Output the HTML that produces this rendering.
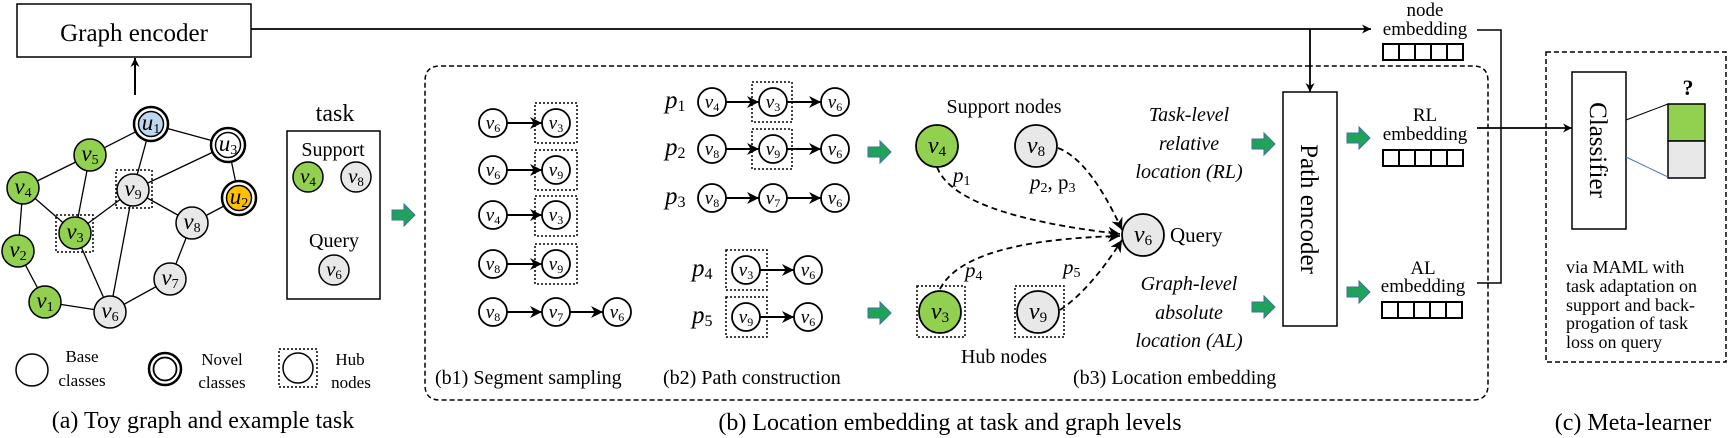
<!DOCTYPE html>
<html><head><meta charset="utf-8"><style>
html,body{margin:0;padding:0;background:#fff}
svg{display:block}
text{font-family:"Liberation Serif",serif;fill:#000}
.v{font-style:italic}
.v tspan{font-style:normal}
</style></head><body>
<svg width="1731" height="438" viewBox="0 0 1731 438" xmlns="http://www.w3.org/2000/svg">
<defs>
<marker id="ah" viewBox="0 0 10 10" refX="10" refY="5" markerWidth="9" markerHeight="9" markerUnits="userSpaceOnUse" orient="auto"><path d="M0,0 L10,5 L0,10 L3,5 z" fill="#000"/></marker>
<marker id="ah2" viewBox="0 0 10 10" refX="10" refY="5" markerWidth="12" markerHeight="12" markerUnits="userSpaceOnUse" orient="auto"><path d="M0,0 L10,5 L0,10 L3,5 z" fill="#000"/></marker>
<g id="ga"><polygon points="0,-5 12,-5 12,-11 23,0 12,11 12,5 0,5" fill="#1fa35a" stroke="#41719c" stroke-width="1"/></g>
<g id="emb" fill="#fff" stroke="#000" stroke-width="2"><rect x="0" y="0" width="16" height="16"/><rect x="16" y="0" width="16" height="16"/><rect x="32" y="0" width="16" height="16"/><rect x="48" y="0" width="16" height="16"/><rect x="64" y="0" width="16" height="16"/></g>
</defs>

<!-- (a) -->
<rect x="17" y="4" width="234" height="53" fill="#fff" stroke="#000" stroke-width="1.5"/>
<text x="134" y="41" font-size="25" text-anchor="middle">Graph encoder</text>
<line x1="135" y1="95" x2="135" y2="58" stroke="#000" stroke-width="2" marker-end="url(#ah)"/>
<g stroke="#000" stroke-width="1.3">
<line x1="151" y1="124" x2="90" y2="155"/><line x1="151" y1="124" x2="228" y2="145"/><line x1="151" y1="124" x2="133" y2="190"/>
<line x1="228" y1="145" x2="133" y2="190"/><line x1="228" y1="145" x2="239" y2="198"/><line x1="239" y1="198" x2="192" y2="223"/>
<line x1="90" y1="155" x2="23" y2="188"/><line x1="90" y1="155" x2="75" y2="233"/><line x1="23" y1="188" x2="75" y2="233"/>
<line x1="23" y1="188" x2="18" y2="251"/><line x1="133" y1="190" x2="75" y2="233"/><line x1="133" y1="190" x2="192" y2="223"/>
<line x1="133" y1="190" x2="110" y2="312"/><line x1="75" y1="233" x2="110" y2="312"/><line x1="192" y1="223" x2="170" y2="279"/>
<line x1="170" y1="279" x2="110" y2="312"/><line x1="18" y1="251" x2="45" y2="302"/><line x1="45" y1="302" x2="110" y2="312"/>
</g>
<g fill="none" stroke="#000" stroke-width="1.5" stroke-dasharray="2,2"><rect x="116" y="170" width="36" height="38"/><rect x="56" y="215" width="37" height="37"/></g>
<g stroke="#000" stroke-width="1.5">
<circle cx="151" cy="124" r="17" fill="#fff" stroke-width="2.5"/><circle cx="151" cy="124" r="12.5" fill="#bdd7ee"/>
<circle cx="228" cy="145" r="17" fill="#fff" stroke-width="2.5"/><circle cx="228" cy="145" r="12.5" fill="#fff"/>
<circle cx="239" cy="198" r="17" fill="#fff" stroke-width="2.5"/><circle cx="239" cy="198" r="12.5" fill="#ffc000"/>
<circle cx="90" cy="155" r="16" fill="#92d050"/><circle cx="23" cy="188" r="16" fill="#92d050"/>
<circle cx="133" cy="190" r="16" fill="#e8e8e8"/><circle cx="75" cy="233" r="16" fill="#92d050"/>
<circle cx="192" cy="223" r="16" fill="#e8e8e8"/><circle cx="18" cy="251" r="16" fill="#92d050"/>
<circle cx="170" cy="279" r="16" fill="#e8e8e8"/><circle cx="45" cy="302" r="16" fill="#92d050"/>
<circle cx="110" cy="312" r="16" fill="#e8e8e8"/>
</g>
<g font-size="23" class="v" text-anchor="middle">
<text class="v" x="151" y="130">u<tspan font-size="14" dy="3">1</tspan></text>
<text class="v" x="228" y="151">u<tspan font-size="14" dy="3">3</tspan></text>
<text class="v" x="239" y="204">u<tspan font-size="14" dy="3">2</tspan></text>
<text class="v" x="90" y="161">v<tspan font-size="14" dy="3">5</tspan></text>
<text class="v" x="23" y="194">v<tspan font-size="14" dy="3">4</tspan></text>
<text class="v" x="133" y="196">v<tspan font-size="14" dy="3">9</tspan></text>
<text class="v" x="75" y="239">v<tspan font-size="14" dy="3">3</tspan></text>
<text class="v" x="192" y="229">v<tspan font-size="14" dy="3">8</tspan></text>
<text class="v" x="18" y="257">v<tspan font-size="14" dy="3">2</tspan></text>
<text class="v" x="170" y="285">v<tspan font-size="14" dy="3">7</tspan></text>
<text class="v" x="45" y="308">v<tspan font-size="14" dy="3">1</tspan></text>
<text class="v" x="110" y="318">v<tspan font-size="14" dy="3">6</tspan></text>
</g>
<text x="335" y="121" font-size="24" text-anchor="middle">task</text>
<rect x="287" y="131" width="93" height="168" fill="#fff" stroke="#000" stroke-width="1.5"/>
<text x="333" y="156" font-size="20" text-anchor="middle">Support</text>
<circle cx="308" cy="177" r="15" fill="#92d050" stroke="#000" stroke-width="1.5"/>
<circle cx="356" cy="177" r="15" fill="#e8e8e8" stroke="#000" stroke-width="1.5"/>
<text class="v" x="308" y="183" font-size="21" text-anchor="middle">v<tspan font-size="13" dy="3">4</tspan></text>
<text class="v" x="356" y="183" font-size="21" text-anchor="middle">v<tspan font-size="13" dy="3">8</tspan></text>
<text x="334" y="247" font-size="20" text-anchor="middle">Query</text>
<circle cx="334" cy="270" r="15" fill="#e8e8e8" stroke="#000" stroke-width="1.5"/>
<text class="v" x="334" y="276" font-size="21" text-anchor="middle">v<tspan font-size="13" dy="3">6</tspan></text>
<!-- legend -->
<circle cx="32" cy="370" r="16" fill="#fff" stroke="#000" stroke-width="1.5"/>
<text x="82" y="362" font-size="17" text-anchor="middle">Base</text><text x="82" y="386" font-size="17" text-anchor="middle">classes</text>
<circle cx="165" cy="369" r="16" fill="#fff" stroke="#000" stroke-width="2.5"/><circle cx="165" cy="369" r="11.5" fill="#fff" stroke="#000" stroke-width="1.8"/>
<text x="222" y="365" font-size="17" text-anchor="middle">Novel</text><text x="222" y="388" font-size="17" text-anchor="middle">classes</text>
<rect x="279" y="349" width="38" height="38" fill="none" stroke="#000" stroke-width="1.5" stroke-dasharray="2,2"/>
<circle cx="298" cy="368" r="15" fill="#fff" stroke="#000" stroke-width="1.5"/>
<text x="350" y="365" font-size="17" text-anchor="middle">Hub</text><text x="351" y="388" font-size="17" text-anchor="middle">nodes</text>
<text x="203" y="428" font-size="24" text-anchor="middle">(a) Toy graph and example task</text>

<use href="#ga" x="392" y="215"/>

<!-- (b) box -->
<path d="M1310,66 H440 Q425,66 425,81 V385 Q425,400 440,400 H1473 Q1488,400 1488,385 V81 Q1488,66 1473,66 H1310" fill="none" stroke="#000" stroke-width="1.5" stroke-dasharray="5,3"/>

<!-- b1 -->
<g fill="none" stroke="#000" stroke-width="1.5" stroke-dasharray="2,2">
<rect x="535" y="103" width="42" height="40"/><rect x="535" y="150" width="42" height="40"/><rect x="535" y="196" width="42" height="40"/><rect x="535" y="244" width="42" height="40"/>
<rect x="752" y="82" width="40" height="40"/><rect x="752" y="129" width="40" height="40"/>
<rect x="726" y="250" width="41" height="40"/><rect x="726" y="297" width="41" height="40"/>
</g>
<g stroke="#000" stroke-width="2" marker-end="url(#ah2)">
<line x1="507" y1="123" x2="542" y2="123"/><line x1="507" y1="170" x2="542" y2="170"/><line x1="507" y1="215" x2="542" y2="215"/><line x1="507" y1="264" x2="542" y2="264"/>
<line x1="507" y1="312" x2="542" y2="312"/><line x1="570" y1="312" x2="603" y2="312"/>
<line x1="726" y1="102" x2="759" y2="102"/><line x1="787" y1="102" x2="821" y2="102"/>
<line x1="726" y1="149" x2="759" y2="149"/><line x1="787" y1="149" x2="821" y2="149"/>
<line x1="726" y1="198" x2="759" y2="198"/><line x1="787" y1="198" x2="821" y2="198"/>
<line x1="760" y1="270" x2="794" y2="270"/><line x1="760" y1="317" x2="794" y2="317"/>
</g>
<g fill="#fff" stroke="#000" stroke-width="1.8">
<circle cx="493" cy="123" r="14"/><circle cx="556" cy="123" r="14"/>
<circle cx="493" cy="170" r="14"/><circle cx="556" cy="170" r="14"/>
<circle cx="493" cy="215" r="14"/><circle cx="556" cy="215" r="14"/>
<circle cx="493" cy="264" r="14"/><circle cx="556" cy="264" r="14"/>
<circle cx="493" cy="312" r="14"/><circle cx="556" cy="312" r="14"/><circle cx="617" cy="312" r="14"/>
<circle cx="712" cy="102" r="14"/><circle cx="773" cy="102" r="14"/><circle cx="835" cy="102" r="14"/>
<circle cx="712" cy="149" r="14"/><circle cx="773" cy="149" r="14"/><circle cx="835" cy="149" r="14"/>
<circle cx="712" cy="198" r="14"/><circle cx="773" cy="198" r="14"/><circle cx="835" cy="198" r="14"/>
<circle cx="746" cy="270" r="14"/><circle cx="808" cy="270" r="14"/>
<circle cx="746" cy="317" r="14"/><circle cx="808" cy="317" r="14"/>
</g>
<g font-size="19" text-anchor="middle">
<text class="v" x="493" y="129">v<tspan font-size="12" dy="3">6</tspan></text><text class="v" x="556" y="129">v<tspan font-size="12" dy="3">3</tspan></text>
<text class="v" x="493" y="176">v<tspan font-size="12" dy="3">6</tspan></text><text class="v" x="556" y="176">v<tspan font-size="12" dy="3">9</tspan></text>
<text class="v" x="493" y="221">v<tspan font-size="12" dy="3">4</tspan></text><text class="v" x="556" y="221">v<tspan font-size="12" dy="3">3</tspan></text>
<text class="v" x="493" y="270">v<tspan font-size="12" dy="3">8</tspan></text><text class="v" x="556" y="270">v<tspan font-size="12" dy="3">9</tspan></text>
<text class="v" x="493" y="318">v<tspan font-size="12" dy="3">8</tspan></text><text class="v" x="556" y="318">v<tspan font-size="12" dy="3">7</tspan></text><text class="v" x="617" y="318">v<tspan font-size="12" dy="3">6</tspan></text>
<text class="v" x="712" y="108">v<tspan font-size="12" dy="3">4</tspan></text><text class="v" x="773" y="108">v<tspan font-size="12" dy="3">3</tspan></text><text class="v" x="835" y="108">v<tspan font-size="12" dy="3">6</tspan></text>
<text class="v" x="712" y="155">v<tspan font-size="12" dy="3">8</tspan></text><text class="v" x="773" y="155">v<tspan font-size="12" dy="3">9</tspan></text><text class="v" x="835" y="155">v<tspan font-size="12" dy="3">6</tspan></text>
<text class="v" x="712" y="204">v<tspan font-size="12" dy="3">8</tspan></text><text class="v" x="773" y="204">v<tspan font-size="12" dy="3">7</tspan></text><text class="v" x="835" y="204">v<tspan font-size="12" dy="3">6</tspan></text>
<text class="v" x="746" y="276">v<tspan font-size="12" dy="3">3</tspan></text><text class="v" x="808" y="276">v<tspan font-size="12" dy="3">6</tspan></text>
<text class="v" x="746" y="323">v<tspan font-size="12" dy="3">9</tspan></text><text class="v" x="808" y="323">v<tspan font-size="12" dy="3">6</tspan></text>
</g>
<g font-size="25">
<text class="v" x="665" y="108">p<tspan font-size="16" dy="3">1</tspan></text>
<text class="v" x="665" y="155">p<tspan font-size="16" dy="3">2</tspan></text>
<text class="v" x="665" y="204">p<tspan font-size="16" dy="3">3</tspan></text>
<text class="v" x="692" y="276">p<tspan font-size="16" dy="3">4</tspan></text>
<text class="v" x="692" y="323">p<tspan font-size="16" dy="3">5</tspan></text>
</g>
<use href="#ga" x="868" y="152"/><use href="#ga" x="868" y="313"/>

<!-- b3 -->
<text x="1004" y="113" font-size="20" text-anchor="middle">Support nodes</text>
<text x="1004" y="363" font-size="20" text-anchor="middle">Hub nodes</text>
<g fill="none" stroke="#000" stroke-width="1.8" stroke-dasharray="6,4">
<path d="M937,167 Q955,215 1120,234" marker-end="url(#ah2)"/>
<path d="M1058,148 Q1090,160 1122,230" marker-end="url(#ah2)"/>
<path d="M940,289 Q965,240 1120,236" marker-end="url(#ah2)"/>
<path d="M1060,310 Q1090,290 1122,240" marker-end="url(#ah2)"/>
</g>
<g fill="none" stroke="#000" stroke-width="1.5" stroke-dasharray="2,2"><rect x="917" y="286" width="48" height="51"/><rect x="1015" y="286" width="49" height="51"/></g>
<g stroke="#000" stroke-width="1.8">
<circle cx="937" cy="146" r="21" fill="#92d050"/><circle cx="1036" cy="146" r="21" fill="#e8e8e8"/>
<circle cx="1143" cy="235" r="21" fill="#e8e8e8"/>
<circle cx="940" cy="312" r="21" fill="#92d050"/><circle cx="1038" cy="312" r="21" fill="#e8e8e8"/>
</g>
<g font-size="24" text-anchor="middle">
<text class="v" x="937" y="153">v<tspan font-size="15" dy="3">4</tspan></text><text class="v" x="1036" y="153">v<tspan font-size="15" dy="3">8</tspan></text>
<text class="v" x="1143" y="242">v<tspan font-size="15" dy="3">6</tspan></text>
<text class="v" x="940" y="319">v<tspan font-size="15" dy="3">3</tspan></text><text class="v" x="1038" y="319">v<tspan font-size="15" dy="3">9</tspan></text>
</g>
<text x="1170" y="242" font-size="21">Query</text>
<g font-size="21">
<text class="v" x="953" y="182">p<tspan font-size="14" dy="3">1</tspan></text>
<text class="v" x="1030" y="189">p<tspan font-size="14" dy="3">2</tspan><tspan dy="-3">, </tspan><tspan dy="0" font-style="italic">p</tspan><tspan font-size="14" dy="3">3</tspan></text>
<text class="v" x="965" y="277">p<tspan font-size="14" dy="3">4</tspan></text>
<text class="v" x="1063" y="274">p<tspan font-size="14" dy="3">5</tspan></text>
</g>
<g font-size="20" text-anchor="middle" font-style="italic">
<text x="1189" y="121">Task-level</text><text x="1189" y="150">relative</text><text x="1189" y="178">location (RL)</text>
<text x="1189" y="290">Graph-level</text><text x="1189" y="319">absolute</text><text x="1189" y="347">location (AL)</text>
</g>
<use href="#ga" x="1252" y="144"/><use href="#ga" x="1252" y="307"/>
<rect x="1283" y="92" width="54" height="234" fill="#fff" stroke="#000" stroke-width="1.5"/>
<text transform="translate(1301,209) rotate(90)" font-size="25" text-anchor="middle">Path encoder</text>
<use href="#ga" x="1347" y="138"/><use href="#ga" x="1347" y="292"/>

<text x="1073" y="384" font-size="20">(b3) Location embedding</text>
<text x="435" y="384" font-size="20">(b1) Segment sampling</text>
<text x="663" y="384" font-size="20">(b2) Path construction</text>
<text x="950" y="430" font-size="24" text-anchor="middle">(b) Location embedding at task and graph levels</text>

<!-- top line -->
<line x1="251" y1="29" x2="1371" y2="29" stroke="#000" stroke-width="1.8" marker-end="url(#ah)"/>
<line x1="1310" y1="29" x2="1310" y2="92" stroke="#000" stroke-width="1.8" marker-end="url(#ah)"/>
<text x="1425" y="16" font-size="19" text-anchor="middle">node</text>
<text x="1425" y="35" font-size="19" text-anchor="middle">embedding</text>
<use href="#emb" x="1383" y="44"/>
<text x="1425" y="121" font-size="19" text-anchor="middle">RL</text>
<text x="1425" y="140" font-size="19" text-anchor="middle">embedding</text>
<use href="#emb" x="1383" y="150"/>
<text x="1423" y="274" font-size="19" text-anchor="middle">AL</text>
<text x="1423" y="292" font-size="19" text-anchor="middle">embedding</text>
<use href="#emb" x="1382" y="302"/>
<polyline points="1477,30 1501,30 1501,283 1477,283" fill="none" stroke="#000" stroke-width="1.5"/>
<line x1="1477" y1="128" x2="1572" y2="128" stroke="#000" stroke-width="1.8" marker-end="url(#ah)"/>

<!-- (c) -->
<rect x="1546" y="52" width="180" height="310" fill="none" stroke="#000" stroke-width="1.5" stroke-dasharray="5,3"/>
<rect x="1572" y="72" width="54" height="157" fill="#fff" stroke="#000" stroke-width="1.5"/>
<text transform="translate(1590,150) rotate(90)" font-size="25" text-anchor="middle">Classifier</text>
<rect x="1668" y="104" width="37" height="37" fill="#92d050" stroke="#000" stroke-width="1.5"/>
<rect x="1668" y="141" width="37" height="37" fill="#e8e8e8" stroke="#000" stroke-width="1.5"/>
<line x1="1626" y1="120" x2="1668" y2="104" stroke="#000" stroke-width="1"/>
<line x1="1626" y1="157" x2="1668" y2="177" stroke="#4472c4" stroke-width="1"/>
<text x="1688" y="95" font-size="22" font-weight="bold" text-anchor="middle">?</text>
<g font-size="18">
<text x="1566" y="273">via MAML with</text><text x="1566" y="292">task adaptation on</text><text x="1566" y="311">support and back-</text><text x="1566" y="329">progation of task</text><text x="1566" y="348">loss on query</text>
</g>
<text x="1633" y="430" font-size="24" text-anchor="middle">(c) Meta-learner</text>
</svg>
</body></html>
